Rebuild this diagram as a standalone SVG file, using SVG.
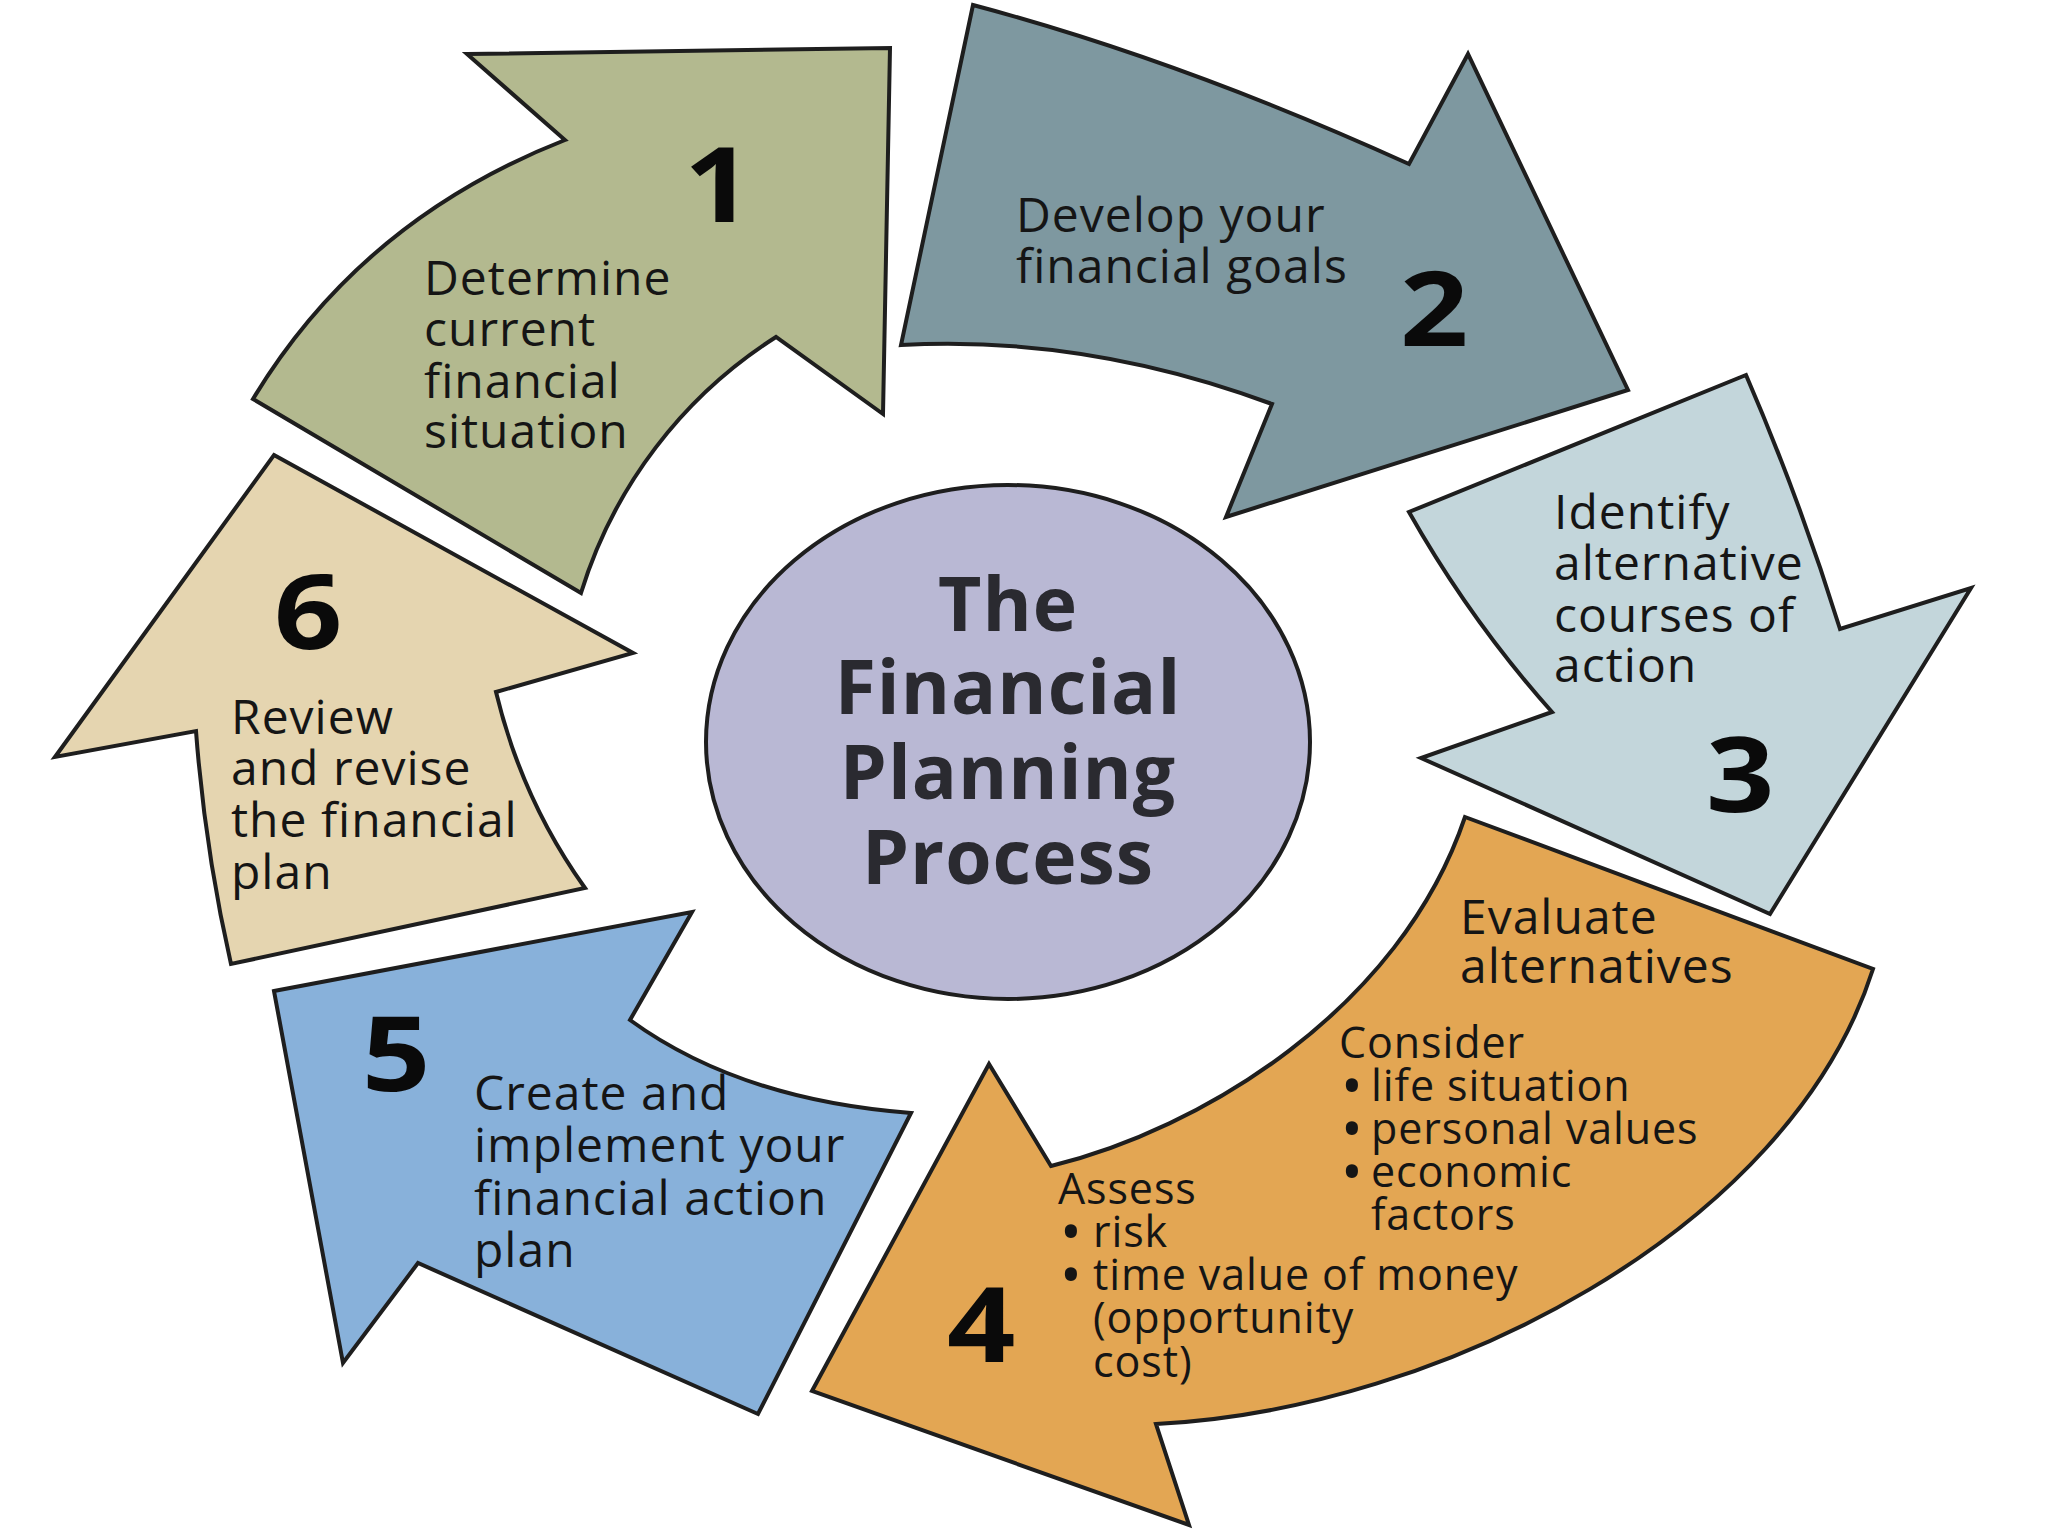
<svg xmlns="http://www.w3.org/2000/svg" width="2048" height="1536" viewBox="0 0 2048 1536">
<style>
.arrow{stroke:#1e1e1e;stroke-width:4;stroke-linejoin:miter}
.t{font-family:"Open Sans","Noto Sans",sans-serif;font-size:48px;letter-spacing:1px;fill:#151515}
.s{font-family:"Open Sans","Noto Sans",sans-serif;font-size:43px;letter-spacing:0.9px;fill:#151515}
.b{font-size:58px;letter-spacing:0}
.n{font-family:"Open Sans","Noto Sans",sans-serif;font-size:104px;font-weight:bold;fill:#0a0a0a}
.c{font-family:"Open Sans","Noto Sans",sans-serif;font-size:75px;font-weight:bold;letter-spacing:1px;fill:#2a2a30;text-anchor:middle}
</style>
<rect width="2048" height="1536" fill="#ffffff"/>
<g id="center">
<ellipse cx="1008" cy="742" rx="302" ry="257" fill="#b9b8d4" stroke="#1e1e1e" stroke-width="4"/>
<text class="c"><tspan x="1008" y="631">The</tspan><tspan x="1008" y="714">Financial</tspan><tspan x="1008" y="799">Planning</tspan><tspan x="1008" y="884">Process</tspan></text>
</g>
<g id="step1">
<path class="arrow" fill="#b3b98f" d="M467,54 L890,48 L883,414 L776,337 A465 465 0 0 0 581,593 L253,399 Q361,220 565,140 Z"/>
<text class="n" transform="translate(684,222) scale(1.15,1)">1</text>
<text class="t"><tspan x="424" y="295">Determine</tspan><tspan x="424" y="346">current</tspan><tspan x="424" y="398">financial</tspan><tspan x="424" y="448">situation</tspan></text>
</g>
<g id="step2">
<path class="arrow" fill="#7e98a0" d="M973,5 Q1180,60 1409,164 L1468,54 L1628,390 L1226,517 L1272,404 Q1086,335 901,345 Z"/>
<text class="t"><tspan x="1016" y="232">Develop your</tspan><tspan x="1016" y="283">financial goals</tspan></text>
<text class="n" transform="translate(1400,346) scale(1.15,1)">2</text>
</g>
<g id="step3">
<path class="arrow" fill="#c3d6db" d="M1746,375 Q1800,500 1840,629 L1971,588 L1770,914 L1421,758 L1552,712 Q1470,620 1409,512 Z"/>
<text class="t"><tspan x="1554" y="529">Identify</tspan><tspan x="1554" y="580">alternative</tspan><tspan x="1554" y="632">courses of</tspan><tspan x="1554" y="682">action</tspan></text>
<text class="n" transform="translate(1706,812) scale(1.15,1)">3</text>
</g>
<g id="step4">
<path class="arrow" fill="#e3a653" d="M1465,817 L1873,969 C1790,1230 1440,1410 1156,1424 L1189,1525 L812,1391 L989,1064 L1051,1166 C1200,1130 1400,1010 1465,817 Z"/>
<text class="t"><tspan x="1460" y="934">Evaluate</tspan><tspan x="1460" y="983">alternatives</tspan></text>
<text class="s"><tspan x="1339" y="1058">Consider</tspan><tspan class="b" x="1341" y="1107">•</tspan><tspan x="1371" y="1101">life situation</tspan><tspan class="b" x="1341" y="1150">•</tspan><tspan x="1371" y="1144">personal values</tspan><tspan class="b" x="1341" y="1193">•</tspan><tspan x="1371" y="1187">economic</tspan><tspan x="1371" y="1230">factors</tspan></text>
<text class="s"><tspan x="1058" y="1204">Assess</tspan><tspan class="b" x="1060" y="1253">•</tspan><tspan x="1093" y="1247">risk</tspan><tspan class="b" x="1060" y="1296">•</tspan><tspan x="1093" y="1290">time value of money</tspan><tspan x="1093" y="1333">(opportunity</tspan><tspan x="1093" y="1377">cost)</tspan></text>
<text class="n" transform="translate(947,1362) scale(1.15,1)">4</text>
</g>
<g id="step5">
<path class="arrow" fill="#88b1da" d="M274,991 L692,912 L630,1020 Q740,1100 911,1113 L758,1414 L418,1263 L343,1363 Z"/>
<text class="n" transform="translate(362,1091) scale(1.15,1)">5</text>
<text class="t"><tspan x="474" y="1110">Create and</tspan><tspan x="474" y="1162">implement your</tspan><tspan x="474" y="1215">financial action</tspan><tspan x="474" y="1267">plan</tspan></text>
</g>
<g id="step6">
<path class="arrow" fill="#e5d5b0" d="M274,455 L633,653 L496,692 Q522,800 585,888 L231,964 Q205,850 196,731 L55,757 Z"/>
<text class="n" transform="translate(274,649) scale(1.15,1)">6</text>
<text class="t"><tspan x="231" y="734">Review</tspan><tspan x="231" y="785">and revise</tspan><tspan x="231" y="837">the financial</tspan><tspan x="231" y="889">plan</tspan></text>
</g>
<g id="connectors"></g>
</svg>
